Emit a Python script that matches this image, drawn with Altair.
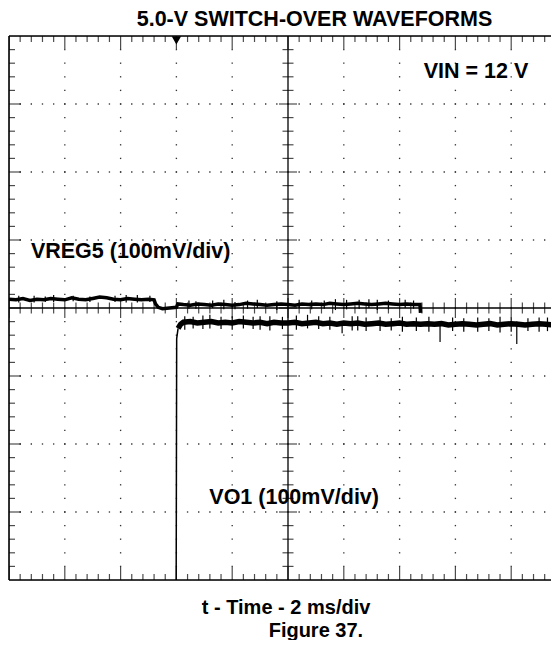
import altair as alt
import pandas as pd

# ---------------- data (time in ms, 2 ms/div; voltage in mV, 100 mV/div, centre = 0) -------------
# VREG5 trace
vreg5_t = [0.0, 0.25, 0.5, 0.75, 1.0, 1.25, 1.5, 1.75, 2.0, 2.25, 2.5, 2.75, 3.0, 3.25, 3.5,
           3.75, 4.0, 4.25, 4.5, 4.75, 5.0, 5.2,
           5.25, 5.35, 5.5, 5.75, 6.0, 6.05,
           6.25, 6.5, 6.75, 7.0, 7.25, 7.5, 7.75, 8.0, 8.25, 8.5, 8.75, 9.0, 9.25, 9.5, 9.75,
           10.0, 10.25, 10.5, 10.75, 11.0, 11.25, 11.5, 11.75, 12.0, 12.25, 12.5, 12.75, 13.0,
           13.25, 13.5, 13.75, 14.0, 14.25, 14.5, 14.73, 14.75]
vreg5_mv = [13, 12, 14, 11, 13, 12, 14, 13, 12, 15, 13, 12, 14, 16, 15,
            13, 12, 14, 13, 12, 13, 12,
            6, 1, -1, 0, 1, 6,
            5, 4, 6, 5, 4, 6, 5, 4, 5, 7, 6, 5, 4, 5, 6,
            5, 4, 6, 5, 6, 5, 7, 6, 5, 6, 7, 6, 5,
            6, 7, 6, 5, 6, 5, 5, -7]

# VO1 rising edge (comes up from below the screen at the trigger point)
edge_t = [5.99, 6.01, 6.06]
edge_mv = [-440, -45, -30]

# VO1 settled trace
vo1_t = [6.06, 6.15,
         6.25, 6.5, 6.75, 7.0, 7.25, 7.5, 7.75, 8.0, 8.25, 8.5, 8.75, 9.0, 9.25, 9.5, 9.75,
         10.0, 10.25, 10.5, 10.75, 11.0, 11.25, 11.5, 11.75, 12.0, 12.25, 12.5, 12.75, 13.0,
         13.25, 13.5, 13.75, 14.0, 14.25, 14.5, 14.75, 15.0, 15.25, 15.5, 15.75, 16.0, 16.25,
         16.5, 16.75, 17.0, 17.25, 17.5, 17.75, 18.0, 18.25, 18.5, 18.75, 19.0, 19.25, 19.5, 19.75]
vo1_mv = [-30, -24,
          -21, -20, -22, -21, -20, -22, -21, -22, -20, -21, -22, -21, -23, -21, -22,
          -22, -21, -23, -22, -21, -23, -22, -24, -22, -23, -22, -24, -23,
          -22, -24, -23, -22, -24, -23, -24, -23, -24, -23, -25, -24, -23,
          -24, -25, -24, -23, -25, -24, -23, -24, -25, -24, -23, -24, -25, -24]

# noise spikes: time, top, bottom (mV)
spike_t = [0.35, 0.9, 1.3, 1.6, 2.3, 2.9, 3.8, 4.2, 4.6, 5.05,
           6.45, 6.7, 7.3, 7.7, 8.1, 8.55, 8.9, 9.6, 10.4, 10.85, 11.3, 11.7, 12.1, 12.55,
           12.9, 13.2, 13.6, 14.2, 14.5,
           6.3, 6.6, 6.95, 7.2, 7.6, 8.0, 8.4, 8.75, 9.0, 9.35, 9.8, 10.3, 10.7, 11.1, 11.5,
           11.94, 12.3, 12.5, 12.8, 13.3, 13.7, 14.1, 14.6, 15.05, 15.45, 15.9, 16.3, 16.8,
           17.2, 17.6, 18.0, 18.2, 18.6, 19.0, 19.3, 19.6]
spike_hi = [18, 18, 17, 19, 18, 17, 18, 19, 19, 18,
            11, 10, 11, 12, 9, 11, 12, 10, 12, 11, 11, 13, 12, 12,
            13, 12, 11, 12, 11,
            -12, -13, -11, -10, -13, -12, -11, -13, -12, -12, -13, -11, -10, -12, -13,
            -20, -12, -12, -14, -13, -15, -13, -14, -13, -20, -14, -15, -14,
            -15, -13, -14, -20, -15, -14, -14, -15]
spike_lo = [8, 8, 9, 9, 10, 9, 9, 8, 8, 9,
            -1, -1, 0, -2, -2, -1, 0, -3, 0, -2, -1, -3, -2, -1,
            0, -3, -2, 0, -1,
            -32, -30, -31, -30, -31, -32, -30, -31, -32, -33, -31, -32, -30, -31, -32,
            -37, -33, -33, -34, -34, -33, -35, -34, -35, -50, -34, -35, -35,
            -34, -36, -35, -53, -34, -35, -34, -35]

# texts inside / around the screen
label_text = ["5.0-V SWITCH-OVER WAVEFORMS", "VIN = 12 V", "VREG5 (100mV/div)", "VO1 (100mV/div)"]
label_t = [10.95, 16.74, 4.36, 10.22]
label_mv = [414.7, 338.2, 73.1, -288.2]

# captions below the screen
caption_text = ["t - Time - 2 ms/div", "Figure 37."]
caption_t = [9.93, 11.0]
caption_mv = [-449.3, -483.1]

trigger_t = [6.0]
trigger_mv = [393.7]

# ---------------- screen geometry ----------------
PLOT_W = 542
X_MAX = 20 * PLOT_W / 558.0  # visible part of the 10-division screen (ms)
FONT = "Liberation Sans"

xs = alt.Scale(domain=[0, X_MAX], nice=False, zero=False)
ys = alt.Scale(domain=[-400, 400], nice=False, zero=False)

def X(field="t"):
    return alt.X(f"{field}:Q", scale=xs, axis=None)

def Y(field="v"):
    return alt.Y(f"{field}:Q", scale=ys, axis=None)

# dotted graticule
dots = []
for v in [-300, -200, -100, 100, 200, 300]:
    for i in range(1, 49):
        dots.append({"t": i * 0.4, "v": v})
for t in [2, 4, 6, 8, 12, 14, 16, 18]:
    for j in range(1, 40):
        dots.append({"t": t, "v": -400 + j * 20})
dots_df = pd.DataFrame(dots)

# tick positions
xticks = pd.DataFrame([{"t": i * 0.4, "major": i % 5 == 0} for i in range(0, 49)])
yticks = pd.DataFrame([{"v": -400 + j * 20, "major": j % 5 == 0} for j in range(1, 40)])

dot_layer = alt.Chart(dots_df).mark_square(size=1.8, color="#333", opacity=1).encode(
    x=X(), y=Y())

frame_df = pd.DataFrame([
    {"t": 0, "t2": 0, "v": -400, "v2": 400},
    {"t": 0, "t2": X_MAX, "v": 400, "v2": 400},
    {"t": 0, "t2": X_MAX, "v": -400, "v2": -400},
])
frame = alt.Chart(frame_df).mark_rule(color="black", strokeWidth=1.6).encode(
    x=X(), x2="t2:Q", y=Y(), y2="v2:Q")

center_df = pd.DataFrame([
    {"t": 10, "t2": 10, "v": -400, "v2": 400},
    {"t": 0, "t2": X_MAX, "v": 0, "v2": 0},
])
center = alt.Chart(center_df).mark_rule(color="black", strokeWidth=1.3).encode(
    x=X(), x2="t2:Q", y=Y(), y2="v2:Q")

def xtick_layer(vpos, minor, major):
    d = xticks.copy()
    d["v"] = vpos
    d["len"] = [major if m else minor for m in d["major"]]
    return alt.Chart(d).mark_tick(orient="vertical", thickness=1.2, color="black",
                                  clip=True).encode(
        x=X(), y=Y(), size=alt.Size("len:Q", scale=None))

def ytick_layer(tpos, minor, major):
    d = yticks.copy()
    d["t"] = tpos
    d["len"] = [major if m else minor for m in d["major"]]
    return alt.Chart(d).mark_tick(orient="horizontal", thickness=1.2, color="black",
                                  clip=True).encode(
        x=X(), y=Y(), size=alt.Size("len:Q", scale=None))

ticks = [
    xtick_layer(400, 12, 26),
    xtick_layer(-400, 12, 26),
    xtick_layer(0, 11, 20),
    ytick_layer(0, 12, 24),
    ytick_layer(10, 11, 18),
]

vreg5 = alt.Chart(pd.DataFrame({"t": vreg5_t, "v": vreg5_mv})).mark_line(
    color="black", strokeWidth=3.5, clip=True).encode(x=X(), y=Y(), order="t:Q")
vo1 = alt.Chart(pd.DataFrame({"t": vo1_t, "v": vo1_mv})).mark_line(
    color="black", strokeWidth=5.5, clip=True).encode(x=X(), y=Y(), order="t:Q")
vo1_edge = alt.Chart(pd.DataFrame({"t": edge_t, "v": edge_mv})).mark_line(
    color="black", strokeWidth=1.5, clip=True).encode(x=X(), y=Y(), order="t:Q")
spikes = alt.Chart(pd.DataFrame({"t": spike_t, "v": spike_hi, "v2": spike_lo})).mark_rule(
    color="black", strokeWidth=1.2, clip=True).encode(x=X(), y=Y(), y2="v2:Q")

trigger = alt.Chart(pd.DataFrame({"t": trigger_t, "v": trigger_mv})).mark_point(
    shape="triangle-down", filled=True, size=90, color="black", opacity=1).encode(x=X(), y=Y())

labels = alt.Chart(pd.DataFrame({"t": label_t, "v": label_mv, "txt": label_text})).mark_text(
    align="center", baseline="alphabetic", font=FONT, fontWeight="bold", fontSize=21.5,
    color="black").encode(x=X(), y=Y(), text="txt:N")

captions = alt.Chart(pd.DataFrame({"t": caption_t, "v": caption_mv, "txt": caption_text})).mark_text(
    align="center", baseline="alphabetic", font=FONT, fontWeight="bold", fontSize=20,
    color="black").encode(x=X(), y=Y(), text="txt:N")

chart = alt.layer(
    dot_layer, *ticks, center, frame, vreg5, vo1, vo1_edge, spikes, trigger, labels, captions
).properties(
    width=PLOT_W, height=544,
    padding={"left": 1, "top": 28, "right": 0, "bottom": 60},
    autosize=alt.AutoSizeParams(type="none"),
).configure_view(strokeWidth=0).configure(background="white")

chart.save("out.html", embed_options={"renderer": "svg", "actions": False})
